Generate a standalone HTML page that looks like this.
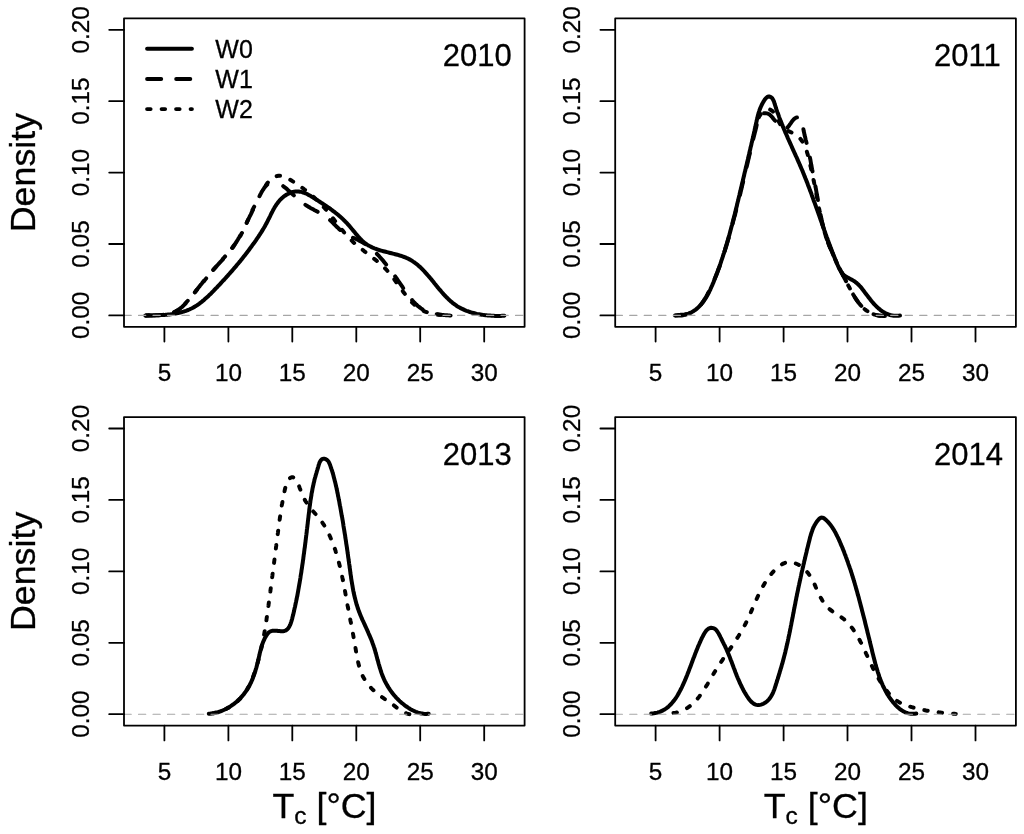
<!DOCTYPE html>
<html lang="en"><head><meta charset="utf-8"><title>Density of Tc</title>
<style>
html,body{margin:0;padding:0;background:#fff;}
body{width:1024px;height:834px;overflow:hidden;}
svg{display:block}
text{font-family:'Liberation Sans', Arial, Helvetica, sans-serif;fill:#000;stroke:#000;stroke-width:0.3px;}
.ax{font-size:24.3px;}
.lg{font-size:25px;}
.lab{font-size:35.8px;}
.yr{font-size:31px;}
.fr{fill:none;stroke:#000;stroke-width:1.8;stroke-linejoin:round;}
.tk{stroke:#000;stroke-width:1.8;fill:none;stroke-linecap:round;}
.zl{stroke:#a6a6a6;stroke-width:1.1;stroke-dasharray:7.25 7.25;stroke-linecap:round;fill:none;}
.c{fill:none;stroke:#000;stroke-width:4.0;stroke-linecap:round;stroke-linejoin:round;}
.d{stroke-width:3.95;stroke-dasharray:14.1 15;}
.o{stroke-width:3.95;stroke-dasharray:3.5 11;}
</style></head><body>
<svg width="1024" height="834" viewBox="0 0 1024 834">
<rect width="1024" height="834" fill="#fff"/>
<g id="panel1">
<path class="c" d="M145.5 315.6 L146.6 315.6 L147.8 315.5 L148.9 315.5 L150.1 315.5 L151.3 315.5 L152.5 315.4 L153.6 315.4 L154.8 315.4 L156.0 315.3 L157.3 315.3 L158.5 315.2 L159.7 315.2 L160.9 315.1 L162.1 315.0 L163.3 315.0 L164.6 314.9 L165.8 314.8 L167.0 314.7 L168.2 314.5 L169.4 314.4 L170.7 314.3 L171.9 314.1 L173.1 313.9 L174.3 313.7 L175.5 313.5 L176.7 313.3 L177.9 313.1 L179.1 312.8 L180.2 312.5 L181.4 312.2 L182.6 311.9 L183.7 311.6 L184.8 311.2 L186.0 310.8 L187.1 310.4 L188.2 310.0 L189.3 309.5 L190.3 309.0 L191.4 308.5 L192.4 308.0 L193.5 307.4 L194.5 306.9 L195.5 306.2 L196.5 305.6 L197.5 305.0 L198.4 304.3 L199.4 303.6 L200.3 302.9 L201.3 302.2 L202.2 301.4 L203.1 300.7 L204.0 299.9 L204.9 299.1 L205.8 298.3 L206.7 297.5 L207.6 296.7 L208.5 295.9 L209.3 295.0 L210.2 294.2 L211.1 293.4 L211.9 292.5 L212.8 291.6 L213.6 290.8 L214.4 289.9 L215.3 289.0 L216.1 288.2 L217.0 287.3 L217.8 286.4 L218.6 285.5 L219.5 284.7 L220.3 283.8 L221.1 282.9 L221.9 282.0 L222.7 281.1 L223.6 280.3 L224.4 279.4 L225.2 278.5 L226.0 277.6 L226.8 276.7 L227.6 275.8 L228.4 274.9 L229.2 274.0 L230.0 273.1 L230.8 272.2 L231.6 271.3 L232.4 270.4 L233.1 269.5 L233.9 268.6 L234.7 267.7 L235.5 266.8 L236.3 265.9 L237.0 264.9 L237.8 264.0 L238.6 263.1 L239.3 262.2 L240.1 261.3 L240.8 260.3 L241.6 259.4 L242.3 258.5 L243.1 257.5 L243.8 256.6 L244.5 255.7 L245.3 254.7 L246.0 253.8 L246.7 252.8 L247.5 251.9 L248.2 250.9 L248.9 250.0 L249.6 249.0 L250.3 248.1 L251.0 247.1 L251.7 246.2 L252.4 245.2 L253.1 244.2 L253.8 243.3 L254.5 242.3 L255.2 241.3 L255.9 240.3 L256.5 239.4 L257.2 238.4 L257.9 237.4 L258.6 236.4 L259.2 235.4 L259.9 234.4 L260.5 233.4 L261.2 232.4 L261.8 231.4 L262.4 230.4 L263.0 229.4 L263.7 228.3 L264.3 227.3 L264.9 226.3 L265.4 225.2 L266.0 224.1 L266.6 223.1 L267.2 222.0 L267.7 220.9 L268.2 219.8 L268.8 218.8 L269.3 217.7 L269.9 216.6 L270.4 215.5 L270.9 214.4 L271.5 213.3 L272.0 212.2 L272.6 211.1 L273.1 210.1 L273.7 209.0 L274.3 208.0 L274.9 206.9 L275.6 205.9 L276.2 204.9 L276.9 203.9 L277.6 203.0 L278.3 202.0 L279.1 201.1 L279.8 200.2 L280.7 199.3 L281.5 198.5 L282.4 197.7 L283.3 196.9 L284.3 196.2 L285.3 195.5 L286.4 194.8 L287.4 194.2 L288.5 193.7 L289.6 193.2 L290.7 192.7 L291.8 192.3 L293.0 192.0 L294.1 191.7 L295.3 191.6 L296.4 191.5 L297.6 191.4 L298.7 191.5 L299.8 191.7 L300.9 191.9 L302.1 192.1 L303.2 192.5 L304.3 192.9 L305.4 193.3 L306.5 193.8 L307.5 194.3 L308.6 194.9 L309.7 195.5 L310.8 196.1 L311.8 196.7 L312.9 197.4 L313.9 198.1 L315.0 198.7 L316.0 199.4 L317.1 200.0 L318.1 200.7 L319.1 201.3 L320.1 202.0 L321.2 202.7 L322.2 203.3 L323.2 204.0 L324.2 204.6 L325.2 205.3 L326.2 206.0 L327.1 206.6 L328.1 207.3 L329.1 208.0 L330.1 208.7 L331.0 209.4 L332.0 210.1 L332.9 210.8 L333.9 211.5 L334.8 212.2 L335.7 213.0 L336.6 213.7 L337.6 214.5 L338.5 215.2 L339.4 216.0 L340.3 216.8 L341.1 217.5 L342.0 218.3 L342.9 219.2 L343.7 220.0 L344.6 220.8 L345.4 221.7 L346.3 222.5 L347.1 223.4 L347.9 224.3 L348.7 225.2 L349.5 226.1 L350.3 227.1 L351.1 228.0 L351.9 229.0 L352.7 229.9 L353.5 230.9 L354.3 231.8 L355.1 232.8 L355.8 233.8 L356.6 234.7 L357.4 235.6 L358.2 236.6 L359.1 237.5 L359.9 238.4 L360.7 239.2 L361.6 240.1 L362.4 240.9 L363.3 241.7 L364.2 242.5 L365.1 243.2 L366.1 243.9 L367.1 244.6 L368.0 245.2 L369.0 245.8 L370.1 246.3 L371.1 246.9 L372.2 247.4 L373.2 247.8 L374.3 248.3 L375.4 248.7 L376.5 249.1 L377.6 249.5 L378.8 249.9 L379.9 250.3 L381.1 250.6 L382.2 250.9 L383.4 251.2 L384.6 251.5 L385.7 251.8 L386.9 252.1 L388.1 252.4 L389.3 252.7 L390.4 253.0 L391.6 253.3 L392.8 253.6 L394.0 253.9 L395.1 254.2 L396.3 254.5 L397.5 254.8 L398.6 255.1 L399.8 255.5 L400.9 255.8 L402.0 256.2 L403.1 256.6 L404.2 257.0 L405.3 257.4 L406.4 257.9 L407.5 258.3 L408.5 258.9 L409.5 259.4 L410.5 259.9 L411.5 260.5 L412.5 261.1 L413.5 261.8 L414.4 262.4 L415.3 263.1 L416.3 263.8 L417.2 264.5 L418.1 265.3 L418.9 266.1 L419.8 266.8 L420.7 267.6 L421.5 268.5 L422.4 269.3 L423.2 270.1 L424.0 271.0 L424.8 271.9 L425.6 272.8 L426.4 273.7 L427.2 274.6 L428.0 275.5 L428.8 276.4 L429.6 277.3 L430.4 278.3 L431.2 279.2 L431.9 280.2 L432.7 281.1 L433.5 282.1 L434.2 283.0 L435.0 284.0 L435.8 284.9 L436.6 285.9 L437.3 286.9 L438.1 287.8 L438.9 288.8 L439.7 289.7 L440.5 290.6 L441.3 291.6 L442.1 292.5 L442.9 293.4 L443.7 294.3 L444.5 295.2 L445.3 296.1 L446.2 296.9 L447.0 297.8 L447.9 298.6 L448.7 299.5 L449.6 300.3 L450.5 301.1 L451.4 301.8 L452.3 302.6 L453.2 303.3 L454.1 304.0 L455.1 304.7 L456.1 305.4 L457.0 306.1 L458.0 306.7 L459.1 307.3 L460.1 307.9 L461.1 308.4 L462.2 308.9 L463.3 309.4 L464.3 309.9 L465.4 310.4 L466.5 310.8 L467.7 311.2 L468.8 311.6 L469.9 312.0 L471.1 312.4 L472.2 312.7 L473.4 313.0 L474.6 313.3 L475.7 313.6 L476.9 313.9 L478.1 314.1 L479.3 314.3 L480.5 314.5 L481.7 314.7 L482.9 314.9 L484.1 315.1 L485.3 315.2 L486.5 315.3 L487.7 315.4 L489.0 315.5 L490.2 315.6 L491.4 315.7 L492.6 315.8 L493.8 315.8 L495.0 315.9 L496.2 315.9 L497.4 315.9 L498.6 315.9 L499.7 315.9 L500.9 315.9 L502.1 315.8 L503.2 315.8 L504.4 315.7"/>
<path class="c d" stroke-dashoffset="0" d="M145.5 315.6 L146.6 315.5 L147.8 315.5 L149.0 315.5 L150.1 315.4 L151.3 315.4 L152.5 315.4 L153.8 315.3 L155.0 315.3 L156.2 315.3 L157.4 315.2 L158.6 315.2 L159.9 315.1 L161.1 315.0 L162.3 314.9 L163.5 314.8 L164.7 314.6 L165.9 314.4 L167.1 314.2 L168.3 314.0 L169.4 313.7 L170.5 313.4 L171.7 313.0 L172.8 312.7 L173.8 312.2 L174.9 311.7 L175.9 311.2 L176.9 310.6 L177.9 310.0 L178.9 309.3 L179.9 308.7 L180.8 307.9 L181.7 307.2 L182.6 306.4 L183.5 305.6 L184.4 304.7 L185.2 303.9 L186.1 303.0 L186.9 302.1 L187.7 301.2 L188.5 300.3 L189.3 299.3 L190.1 298.4 L190.9 297.4 L191.7 296.4 L192.4 295.5 L193.2 294.5 L193.9 293.5 L194.7 292.5 L195.4 291.6 L196.2 290.6 L196.9 289.6 L197.7 288.7 L198.4 287.7 L199.2 286.8 L199.9 285.8 L200.6 284.9 L201.4 284.0 L202.1 283.1 L202.8 282.1 L203.6 281.2 L204.3 280.3 L205.1 279.4 L205.8 278.5 L206.5 277.6 L207.3 276.7 L208.1 275.8 L208.8 274.9 L209.6 274.0 L210.3 273.1 L211.1 272.2 L211.9 271.3 L212.7 270.4 L213.5 269.5 L214.3 268.7 L215.1 267.8 L215.9 266.9 L216.7 266.0 L217.5 265.2 L218.3 264.3 L219.1 263.4 L219.9 262.5 L220.7 261.7 L221.5 260.8 L222.4 259.9 L223.2 259.0 L224.0 258.1 L224.8 257.2 L225.6 256.3 L226.4 255.4 L227.1 254.5 L227.9 253.6 L228.7 252.7 L229.4 251.7 L230.2 250.8 L230.9 249.9 L231.7 248.9 L232.4 248.0 L233.1 247.0 L233.8 246.0 L234.4 245.0 L235.1 244.0 L235.7 243.0 L236.4 242.0 L237.0 241.0 L237.6 240.0 L238.2 239.0 L238.8 237.9 L239.4 236.9 L240.0 235.8 L240.6 234.8 L241.1 233.7 L241.7 232.7 L242.3 231.6 L242.8 230.6 L243.3 229.5 L243.9 228.4 L244.4 227.4 L244.9 226.3 L245.5 225.2 L246.0 224.2 L246.5 223.1 L247.0 222.0 L247.6 221.0 L248.1 219.9 L248.6 218.9 L249.1 217.8 L249.6 216.7 L250.1 215.7 L250.7 214.6 L251.2 213.5 L251.7 212.5 L252.2 211.4 L252.7 210.4 L253.2 209.3 L253.7 208.2 L254.3 207.1 L254.8 206.1 L255.3 205.0 L255.8 203.9 L256.3 202.8 L256.9 201.7 L257.4 200.6 L257.9 199.5 L258.4 198.4 L259.0 197.3 L259.5 196.2 L260.0 195.1 L260.6 194.0 L261.2 192.9 L261.7 191.9 L262.4 190.8 L263.0 189.8 L263.7 188.8 L264.3 187.8 L265.1 186.9 L265.8 186.0 L266.6 185.2 L267.5 184.4 L268.4 183.6 L269.3 182.9 L270.3 182.3 L271.3 181.8 L272.4 181.5 L273.6 181.3 L274.8 181.3 L276.0 181.5"/>
<path class="c d" stroke-dashoffset="15.24" d="M270.5 181.8 L271.7 181.6 L272.9 181.6 L274.0 181.7 L275.1 181.9 L276.2 182.2 L277.3 182.6 L278.3 183.0 L279.3 183.6 L280.3 184.2 L281.3 184.8 L282.3 185.4 L283.2 186.1 L284.1 186.9 L285.1 187.6 L286.0 188.3 L286.9 189.1 L287.8 189.9 L288.7 190.7 L289.6 191.5 L290.5 192.3 L291.4 193.1 L292.3 193.9 L293.2 194.8 L294.1 195.6 L295.0 196.4 L295.9 197.2 L296.8 198.0 L297.7 198.9 L298.6 199.6 L299.6 200.4 L300.5 201.2 L301.4 202.0 L302.4 202.7 L303.4 203.4 L304.3 204.1 L305.3 204.8 L306.3 205.4 L307.3 206.1 L308.4 206.7 L309.4 207.3 L310.4 207.9 L311.5 208.5 L312.5 209.0 L313.6 209.6 L314.6 210.2 L315.7 210.7 L316.7 211.3 L317.8 211.9 L318.8 212.5 L319.9 213.1 L320.9 213.6 L321.9 214.3 L322.9 214.9 L323.9 215.5 L324.9 216.2 L325.9 216.8 L326.8 217.5 L327.8 218.2 L328.7 219.0 L329.6 219.8 L330.5 220.5 L331.4 221.4 L332.2 222.2 L333.1 223.0 L333.9 223.9 L334.8 224.7 L335.6 225.6 L336.5 226.5 L337.3 227.3 L338.2 228.1 L339.1 229.0 L339.9 229.8 L340.8 230.5 L341.8 231.3 L342.7 232.0 L343.7 232.7 L344.7 233.4 L345.7 234.0 L346.7 234.6 L347.7 235.2 L348.8 235.7 L349.9 236.3 L351.0 236.8 L352.1 237.3 L353.2 237.8 L354.3 238.3 L355.4 238.8 L356.5 239.3 L357.6 239.8 L358.6 240.3 L359.7 240.9 L360.8 241.4 L361.8 242.0 L362.9 242.6 L363.9 243.2 L364.9 243.8 L365.9 244.5 L366.9 245.1 L367.9 245.8 L368.8 246.5 L369.7 247.3 L370.7 248.0 L371.6 248.8 L372.5 249.6 L373.4 250.4 L374.2 251.2 L375.1 252.0 L375.9 252.8 L376.8 253.7 L377.6 254.6 L378.4 255.4 L379.2 256.3 L380.0 257.2 L380.8 258.1 L381.6 259.0 L382.4 259.9 L383.2 260.8 L383.9 261.7 L384.7 262.7 L385.4 263.6 L386.2 264.5 L386.9 265.4 L387.6 266.4 L388.4 267.3 L389.1 268.2 L389.8 269.2 L390.5 270.1 L391.2 271.1 L391.9 272.0 L392.6 273.0 L393.3 273.9 L394.0 274.9 L394.7 275.8 L395.4 276.8 L396.1 277.7 L396.8 278.7 L397.5 279.7 L398.1 280.7 L398.8 281.6 L399.5 282.6 L400.2 283.6 L400.9 284.6 L401.6 285.6 L402.3 286.6 L402.9 287.6 L403.6 288.6 L404.3 289.6 L405.0 290.6 L405.7 291.6 L406.4 292.6 L407.1 293.6 L407.9 294.6 L408.6 295.5 L409.3 296.5 L410.1 297.5 L410.8 298.4 L411.6 299.4 L412.3 300.3 L413.1 301.2 L413.9 302.1 L414.7 302.9 L415.6 303.8 L416.4 304.6 L417.3 305.4 L418.2 306.2 L419.1 306.9 L420.0 307.6 L420.9 308.3 L421.9 309.0 L422.9 309.6 L423.9 310.2 L424.9 310.7 L425.9 311.2 L427.0 311.7 L428.1 312.1 L429.2 312.5 L430.4 312.8 L431.5 313.2 L432.7 313.4 L433.9 313.7 L435.1 313.9 L436.3 314.2 L437.5 314.3 L438.7 314.5 L439.9 314.7 L441.2 314.8 L442.4 314.9 L443.6 315.0 L444.8 315.1 L446.0 315.2 L447.2 315.3 L448.3 315.4 L449.5 315.5 L450.6 315.6"/>
<path class="c o" stroke-dashoffset="0" d="M145.5 315.6 L146.6 315.5 L147.7 315.4 L148.9 315.3 L150.1 315.3 L151.2 315.2 L152.4 315.2 L153.7 315.2 L154.9 315.1 L156.1 315.1 L157.3 315.1 L158.6 315.1 L159.8 315.0 L161.0 315.0 L162.3 314.9 L163.5 314.8 L164.7 314.7 L165.9 314.5 L167.1 314.3 L168.3 314.1 L169.5 313.9 L170.6 313.6 L171.7 313.2 L172.8 312.8 L173.9 312.4 L175.0 311.9 L176.0 311.3 L177.0 310.7 L178.0 310.1 L178.9 309.4 L179.8 308.7 L180.8 307.9 L181.7 307.1 L182.5 306.3 L183.4 305.5 L184.3 304.6 L185.1 303.7 L185.9 302.8 L186.7 301.9 L187.5 301.0 L188.4 300.0 L189.1 299.1 L189.9 298.2 L190.7 297.3 L191.5 296.3 L192.3 295.4 L193.1 294.5 L193.8 293.5 L194.6 292.6 L195.4 291.7 L196.1 290.8 L196.9 289.8 L197.6 288.9 L198.4 288.0 L199.2 287.0 L199.9 286.1 L200.7 285.2 L201.4 284.3 L202.2 283.4 L202.9 282.4 L203.6 281.5 L204.4 280.6 L205.1 279.7 L205.9 278.8 L206.6 277.8 L207.4 276.9 L208.2 276.0 L208.9 275.1 L209.7 274.2 L210.4 273.3 L211.2 272.4 L212.0 271.5 L212.7 270.6 L213.5 269.7 L214.3 268.8 L215.1 267.9 L215.8 267.0 L216.6 266.1 L217.4 265.2 L218.2 264.3 L219.0 263.4 L219.8 262.5 L220.6 261.6 L221.4 260.7 L222.1 259.8 L222.9 258.9 L223.7 258.0 L224.5 257.1 L225.3 256.2 L226.1 255.3 L226.8 254.4 L227.6 253.5 L228.4 252.6 L229.1 251.7 L229.9 250.7 L230.6 249.8 L231.4 248.9 L232.1 247.9 L232.8 247.0 L233.5 246.0 L234.2 245.1 L234.9 244.1 L235.6 243.2 L236.3 242.2 L237.0 241.2 L237.6 240.2 L238.3 239.2 L238.9 238.2 L239.6 237.2 L240.2 236.2 L240.8 235.2 L241.3 234.1 L241.9 233.1 L242.5 232.0 L243.0 231.0 L243.5 229.9 L244.1 228.8 L244.6 227.7 L245.1 226.7 L245.5 225.6 L246.0 224.5 L246.5 223.4 L247.0 222.2 L247.4 221.1 L247.9 220.0 L248.4 218.9 L248.9 217.8 L249.3 216.7 L249.8 215.6 L250.3 214.5 L250.8 213.4 L251.3 212.4 L251.8 211.3 L252.3 210.2 L252.9 209.1 L253.4 208.1 L254.0 207.0 L254.6 206.0 L255.2 205.0 L255.8 204.0 L256.4 202.9 L256.9 201.9 L257.4 200.8 L257.8 199.7 L258.1 198.5"/>
<path class="c o" stroke-dashoffset="10.43" d="M264.0 189.0 L264.5 187.9 L265.0 186.8 L265.6 185.7 L266.3 184.7 L267.0 183.6 L267.8 182.6 L268.6 181.7 L269.4 180.8 L270.3 179.9 L271.2 179.1 L272.2 178.4 L273.2 177.7 L274.2 177.2 L275.2 176.7 L276.2 176.3 L277.3 176.0 L278.4 175.8 L279.4 175.8 L280.5 175.8 L281.6 176.0 L282.7 176.2 L283.8 176.6 L284.9 177.0 L286.0 177.4 L287.1 178.0 L288.1 178.5 L289.2 179.1 L290.3 179.8 L291.4 180.4 L292.4 181.1 L293.5 181.8 L294.5 182.5 L295.6 183.1 L296.6 183.8 L297.6 184.5 L298.6 185.2 L299.6 185.9 L300.6 186.6 L301.6 187.3 L302.6 188.0 L303.6 188.8 L304.5 189.5 L305.5 190.2 L306.4 190.9 L307.4 191.7 L308.3 192.4 L309.2 193.2 L310.1 194.0 L311.0 194.7 L311.9 195.5 L312.8 196.3 L313.7 197.1 L314.6 197.9 L315.4 198.7 L316.3 199.5 L317.2 200.3 L318.0 201.1 L318.8 201.9 L319.7 202.8 L320.5 203.6 L321.3 204.5 L322.1 205.3 L322.9 206.2 L323.7 207.1 L324.5 208.0 L325.3 208.9 L326.1 209.8 L326.8 210.7 L327.6 211.6 L328.3 212.5 L329.1 213.4 L329.8 214.4 L330.6 215.3 L331.3 216.2 L332.1 217.2 L332.8 218.1 L333.6 219.1 L334.3 220.0 L335.0 221.0 L335.8 221.9 L336.5 222.9 L337.2 223.8 L338.0 224.8 L338.7 225.7 L339.5 226.7 L340.2 227.6 L341.0 228.6 L341.7 229.5 L342.5 230.4 L343.3 231.3 L344.0 232.3 L344.8 233.2 L345.6 234.1 L346.4 235.0 L347.2 235.9 L348.0 236.8 L348.8 237.6 L349.6 238.5 L350.5 239.4 L351.3 240.2 L352.2 241.0 L353.0 241.9 L353.9 242.7 L354.8 243.5 L355.7 244.3 L356.6 245.1 L357.5 245.8 L358.5 246.6 L359.4 247.4 L360.3 248.1 L361.3 248.9 L362.2 249.6 L363.2 250.3 L364.1 251.1 L365.1 251.8 L366.0 252.5 L367.0 253.3 L367.9 254.0 L368.9 254.7 L369.9 255.4 L370.8 256.2 L371.8 256.9 L372.7 257.6 L373.6 258.4 L374.6 259.1 L375.5 259.9 L376.5 260.6 L377.4 261.4 L378.3 262.1 L379.2 262.9 L380.1 263.7 L381.0 264.5 L381.9 265.3 L382.7 266.1 L383.6 266.9 L384.4 267.7 L385.3 268.6 L386.1 269.4 L386.9 270.3 L387.7 271.2 L388.5 272.1 L389.2 273.0 L390.0 273.9 L390.8 274.8 L391.5 275.8 L392.2 276.7 L393.0 277.7 L393.7 278.6 L394.4 279.6 L395.1 280.6 L395.8 281.5 L396.5 282.5 L397.2 283.5 L397.9 284.5 L398.6 285.5 L399.3 286.5 L400.0 287.4 L400.7 288.4 L401.4 289.4 L402.2 290.4 L402.9 291.4 L403.6 292.4 L404.4 293.3 L405.1 294.3 L405.8 295.3 L406.6 296.2 L407.4 297.2 L408.2 298.1 L408.9 299.0 L409.7 299.9 L410.6 300.8 L411.4 301.7 L412.2 302.6 L413.1 303.4 L413.9 304.2 L414.8 305.0 L415.7 305.8 L416.6 306.5 L417.6 307.2 L418.5 307.9 L419.5 308.6 L420.5 309.2 L421.5 309.8 L422.5 310.4 L423.6 310.9 L424.6 311.4 L425.7 311.8 L426.8 312.2 L428.0 312.6 L429.1 313.0 L430.3 313.3 L431.5 313.5 L432.7 313.8 L433.9 314.0 L435.1 314.2 L436.3 314.4 L437.5 314.5 L438.8 314.7 L440.0 314.8 L441.2 314.9 L442.4 315.0 L443.6 315.1 L444.8 315.2 L446.0 315.3 L447.2 315.3 L448.3 315.4 L449.5 315.5 L450.6 315.6"/>
<line class="zl" x1="124.0" y1="315.4" x2="524.6" y2="315.4"/>
<rect class="fr" x="124.0" y="18.4" width="400.6" height="308.4"/>
<path class="tk" d="M164.4 326.8v14.8M228.4 326.8v14.8M292.3 326.8v14.8M356.3 326.8v14.8M420.2 326.8v14.8M484.2 326.8v14.8M124.0 315.4h-14.8M124.0 244.0h-14.8M124.0 172.6h-14.8M124.0 101.2h-14.8M124.0 29.8h-14.8"/>
<text class="ax" x="164.4" y="380.7" text-anchor="middle">5</text>
<text class="ax" x="228.4" y="380.7" text-anchor="middle">10</text>
<text class="ax" x="292.3" y="380.7" text-anchor="middle">15</text>
<text class="ax" x="356.3" y="380.7" text-anchor="middle">20</text>
<text class="ax" x="420.2" y="380.7" text-anchor="middle">25</text>
<text class="ax" x="484.2" y="380.7" text-anchor="middle">30</text>
<text class="ax" transform="translate(88.7 315.4) rotate(-90)" text-anchor="middle">0.00</text>
<text class="ax" transform="translate(88.7 244.0) rotate(-90)" text-anchor="middle">0.05</text>
<text class="ax" transform="translate(88.7 172.6) rotate(-90)" text-anchor="middle">0.10</text>
<text class="ax" transform="translate(88.7 101.2) rotate(-90)" text-anchor="middle">0.15</text>
<text class="ax" transform="translate(88.7 29.8) rotate(-90)" text-anchor="middle">0.20</text>
<text class="yr" x="442.7" y="66.1">2010</text>
<text class="lab" transform="translate(35.4 172.6) rotate(-90)" text-anchor="middle">Density</text>
<line class="c" x1="147.1" y1="48.7" x2="191.9" y2="48.7"/>
<text class="lg" x="215.3" y="57.9">W0</text>
<line class="c d" x1="147.1" y1="78.9" x2="191.9" y2="78.9"/>
<text class="lg" x="215.3" y="88.1">W1</text>
<line class="c o" x1="147.1" y1="109.1" x2="191.9" y2="109.1"/>
<text class="lg" x="215.3" y="118.3">W2</text>
</g>
<g id="panel2">
<path class="c" d="M675.0 315.6 L676.4 315.6 L677.8 315.6 L679.1 315.6 L680.4 315.5 L681.6 315.4 L682.9 315.2 L684.1 314.9 L685.2 314.7 L686.4 314.3 L687.5 314.0 L688.6 313.6 L689.6 313.1 L690.7 312.7 L691.7 312.2 L692.6 311.6 L693.6 311.0 L694.5 310.4 L695.4 309.8 L696.3 309.1 L697.2 308.4 L698.0 307.6 L698.8 306.8 L699.6 306.0 L700.4 305.2 L701.1 304.4 L701.8 303.5 L702.6 302.6 L703.3 301.7 L703.9 300.7 L704.6 299.8 L705.2 298.8 L705.9 297.8 L706.5 296.8 L707.1 295.7 L707.7 294.7 L708.2 293.6 L708.8 292.6 L709.3 291.5 L709.9 290.4 L710.4 289.3 L710.9 288.1 L711.4 287.0 L711.9 285.9 L712.4 284.8 L712.9 283.6 L713.4 282.5 L713.8 281.3 L714.3 280.2 L714.7 279.0 L715.2 277.9 L715.6 276.7 L716.1 275.6 L716.5 274.4 L717.0 273.3 L717.4 272.1 L717.8 271.0 L718.2 269.8 L718.6 268.7 L719.1 267.5 L719.5 266.4 L719.9 265.2 L720.3 264.1 L720.7 262.9 L721.1 261.8 L721.4 260.6 L721.8 259.5 L722.2 258.3 L722.6 257.2 L723.0 256.0 L723.3 254.9 L723.7 253.8 L724.1 252.6 L724.4 251.5 L724.8 250.3 L725.1 249.2 L725.5 248.0 L725.8 246.9 L726.2 245.7 L726.5 244.6 L726.9 243.5 L727.2 242.3 L727.5 241.2 L727.9 240.0 L728.2 238.9 L728.5 237.7 L728.8 236.6 L729.2 235.4 L729.5 234.3 L729.8 233.2 L730.1 232.0 L730.4 230.9 L730.7 229.7 L731.0 228.6 L731.3 227.4 L731.6 226.3 L732.0 225.1 L732.3 224.0 L732.6 222.8 L732.8 221.7 L733.1 220.5 L733.4 219.4 L733.7 218.3 L734.0 217.1 L734.3 216.0 L734.6 214.8 L734.9 213.7 L735.2 212.5 L735.5 211.4 L735.7 210.2 L736.0 209.0 L736.3 207.9 L736.6 206.7 L736.9 205.6 L737.1 204.4 L737.4 203.3 L737.7 202.1 L738.0 201.0 L738.3 199.8 L738.5 198.7 L738.8 197.5 L739.1 196.3 L739.4 195.2 L739.6 194.0 L739.9 192.9 L740.2 191.7 L740.5 190.5 L740.7 189.4 L741.0 188.2 L741.3 187.0 L741.6 185.9 L741.8 184.7 L742.1 183.5 L742.4 182.4 L742.7 181.2 L743.0 180.0 L743.2 178.9 L743.5 177.7 L743.8 176.5 L744.1 175.4 L744.3 174.2 L744.6 173.0 L744.9 171.8 L745.2 170.7 L745.5 169.5 L745.7 168.3 L746.0 167.1 L746.3 166.0 L746.6 164.8 L746.9 163.6 L747.1 162.4 L747.4 161.2 L747.7 160.1 L748.0 158.9 L748.2 157.7 L748.5 156.5 L748.8 155.4 L749.1 154.2 L749.3 153.0 L749.6 151.8 L749.9 150.6 L750.2 149.5 L750.4 148.3 L750.7 147.1 L751.0 145.9 L751.3 144.8 L751.5 143.6 L751.8 142.4 L752.1 141.2 L752.4 140.0 L752.6 138.9 L752.9 137.7 L753.2 136.5 L753.4 135.3 L753.7 134.2 L754.0 133.0 L754.2 131.8 L754.5 130.7 L754.7 129.5 L755.0 128.3 L755.3 127.1 L755.5 126.0 L755.8 124.8 L756.0 123.6 L756.3 122.5 L756.6 121.3 L756.8 120.1 L757.1 119.0 L757.4 117.8 L757.6 116.7 L757.9 115.5 L758.2 114.4 L758.6 113.2 L758.9 112.1 L759.3 110.9 L759.6 109.8 L760.1 108.7 L760.5 107.6 L761.0 106.5 L761.5 105.4 L762.0 104.3 L762.6 103.2 L763.2 102.1 L763.8 101.1 L764.5 100.0 L765.2 99.0 L766.0 98.1 L766.8 97.3 L767.7 96.7 L768.7 96.5 L769.7 96.6 L770.7 97.0 L771.6 97.6 L772.3 98.4 L772.9 99.3 L773.4 100.3 L773.9 101.4 L774.3 102.6 L774.6 103.7 L775.0 104.9 L775.4 106.1 L775.8 107.3 L776.1 108.5 L776.5 109.6 L776.9 110.8 L777.3 112.0 L777.7 113.1 L778.2 114.3 L778.6 115.4 L779.0 116.6 L779.4 117.7 L779.9 118.9 L780.3 120.0 L780.7 121.1 L781.2 122.3 L781.6 123.4 L782.1 124.5 L782.5 125.7 L783.0 126.8 L783.5 127.9 L783.9 129.0 L784.4 130.1 L784.9 131.2 L785.3 132.3 L785.8 133.4 L786.3 134.5 L786.8 135.6 L787.3 136.7 L787.7 137.8 L788.2 138.9 L788.7 140.0 L789.2 141.1 L789.7 142.2 L790.2 143.3 L790.7 144.4 L791.2 145.5 L791.7 146.6 L792.1 147.7 L792.6 148.7 L793.1 149.8 L793.6 150.9 L794.1 152.0 L794.6 153.1 L795.1 154.2 L795.6 155.3 L796.1 156.4 L796.6 157.4 L797.1 158.5 L797.5 159.6 L798.0 160.7 L798.5 161.8 L799.0 162.9 L799.5 164.0 L799.9 165.1 L800.4 166.2 L800.9 167.3 L801.3 168.4 L801.8 169.4 L802.3 170.5 L802.7 171.6 L803.2 172.8 L803.6 173.9 L804.1 175.0 L804.5 176.1 L805.0 177.2 L805.4 178.3 L805.9 179.4 L806.3 180.5 L806.7 181.6 L807.2 182.7 L807.6 183.8 L808.0 185.0 L808.4 186.1 L808.9 187.2 L809.3 188.3 L809.7 189.4 L810.1 190.6 L810.6 191.7 L811.0 192.8 L811.4 193.9 L811.8 195.1 L812.2 196.2 L812.6 197.3 L813.0 198.4 L813.4 199.6 L813.8 200.7 L814.2 201.8 L814.7 203.0 L815.1 204.1 L815.5 205.2 L815.9 206.3 L816.3 207.5 L816.7 208.6 L817.1 209.7 L817.5 210.9 L817.9 212.0 L818.3 213.1 L818.7 214.3 L819.1 215.4 L819.5 216.5 L819.9 217.7 L820.3 218.8 L820.7 220.0 L821.1 221.1 L821.5 222.2 L821.9 223.4 L822.3 224.5 L822.7 225.6 L823.1 226.8 L823.5 227.9 L823.9 229.0 L824.3 230.2 L824.7 231.3 L825.1 232.4 L825.5 233.6 L825.9 234.7 L826.3 235.8 L826.7 237.0 L827.1 238.1 L827.6 239.2 L828.0 240.4 L828.4 241.5 L828.8 242.6 L829.2 243.7 L829.6 244.9 L830.1 246.0 L830.5 247.1 L830.9 248.3 L831.3 249.4 L831.8 250.5 L832.2 251.6 L832.6 252.8 L833.1 253.9 L833.5 255.0 L833.9 256.1 L834.4 257.2 L834.8 258.4 L835.3 259.5 L835.7 260.6 L836.2 261.7 L836.6 262.8 L837.1 263.9 L837.6 265.0 L838.1 266.1 L838.6 267.2 L839.1 268.3 L839.6 269.3 L840.2 270.3 L840.8 271.3 L841.5 272.3 L842.2 273.2 L843.0 274.1 L843.8 274.9 L844.7 275.7 L845.6 276.4 L846.7 277.0 L847.7 277.7 L848.9 278.2 L850.0 278.8 L851.1 279.4 L852.3 280.0 L853.3 280.6 L854.3 281.2 L855.3 281.9 L856.2 282.7 L857.1 283.4 L858.0 284.2 L858.8 285.0 L859.6 285.9 L860.4 286.7 L861.2 287.6 L861.9 288.5 L862.6 289.4 L863.3 290.4 L864.1 291.3 L864.8 292.3 L865.5 293.3 L866.2 294.2 L867.0 295.2 L867.7 296.2 L868.4 297.2 L869.2 298.1 L870.0 299.1 L870.7 300.1 L871.5 301.0 L872.3 302.0 L873.1 302.9 L873.9 303.8 L874.7 304.7 L875.6 305.6 L876.4 306.4 L877.3 307.3 L878.2 308.1 L879.1 308.8 L880.0 309.6 L880.9 310.3 L881.8 311.0 L882.8 311.6 L883.8 312.2 L884.8 312.8 L885.8 313.3 L886.9 313.8 L887.9 314.3 L889.0 314.6 L890.1 315.0 L891.3 315.3 L892.5 315.5 L893.6 315.7 L894.9 315.8 L896.1 315.8 L897.4 315.8 L898.7 315.7 L900.0 315.6"/>
<path class="c d" stroke-dashoffset="28.34" d="M675.0 315.6 L676.1 315.4 L677.2 315.2 L678.4 315.0 L679.6 314.9 L680.8 314.8 L682.0 314.7 L683.3 314.6 L684.5 314.5 L685.7 314.3 L687.0 314.1 L688.2 313.9 L689.4 313.7 L690.5 313.3 L691.6 312.9 L692.7 312.5 L693.7 311.9 L694.7 311.2 L695.7 310.5 L696.6 309.7 L697.4 308.8 L698.3 307.9 L699.1 307.0 L699.8 306.1 L700.6 305.1 L701.3 304.2 L702.0 303.2 L702.7 302.2 L703.4 301.2 L704.0 300.2 L704.7 299.2 L705.3 298.2 L705.9 297.2 L706.5 296.1 L707.0 295.1 L707.6 294.0 L708.1 293.0 L708.7 291.9 L709.2 290.8 L709.7 289.8 L710.3 288.7 L710.8 287.6 L711.3 286.5 L711.8 285.5 L712.3 284.4 L712.8 283.3 L713.3 282.2 L713.7 281.1 L714.2 280.0 L714.7 278.9 L715.1 277.8 L715.6 276.7 L716.1 275.6 L716.5 274.5 L716.9 273.4 L717.4 272.2 L717.8 271.1 L718.2 270.0 L718.7 268.9 L719.1 267.7 L719.5 266.6 L719.9 265.5 L720.3 264.4 L720.7 263.2 L721.1 262.1 L721.5 261.0 L721.9 259.8 L722.3 258.7 L722.7 257.5 L723.0 256.4 L723.4 255.2 L723.8 254.1 L724.1 253.0 L724.5 251.8 L724.9 250.7 L725.2 249.5 L725.6 248.4 L725.9 247.2 L726.3 246.1 L726.6 244.9 L727.0 243.7 L727.3 242.6 L727.7 241.4 L728.0 240.3 L728.3 239.1 L728.7 238.0 L729.0 236.8 L729.3 235.7 L729.7 234.5 L730.0 233.3 L730.3 232.2 L730.6 231.0 L730.9 229.9 L731.3 228.7 L731.6 227.6 L731.9 226.4 L732.2 225.3 L732.5 224.1 L732.8 222.9 L733.1 221.8 L733.4 220.6 L733.7 219.5 L734.0 218.3 L734.3 217.2 L734.7 216.0 L735.0 214.9 L735.3 213.7 L735.5 212.5 L735.8 211.4 L736.1 210.2 L736.4 209.1 L736.7 207.9 L737.0 206.8 L737.3 205.6 L737.6 204.5 L737.9 203.3 L738.2 202.1 L738.5 201.0 L738.8 199.8 L739.0 198.7 L739.3 197.5 L739.6 196.3 L739.9 195.2 L740.2 194.0 L740.5 192.9 L740.7 191.7 L741.0 190.6 L741.3 189.4 L741.6 188.2 L741.9 187.1 L742.1 185.9 L742.4 184.8 L742.7 183.6 L743.0 182.4 L743.2 181.3 L743.5 180.1 L743.8 178.9 L744.1 177.8 L744.4 176.6 L744.6 175.5 L744.9 174.3 L745.2 173.1 L745.5 172.0 L745.7 170.8 L746.0 169.6 L746.3 168.5 L746.6 167.3 L746.8 166.1 L747.1 165.0 L747.4 163.8 L747.7 162.6 L747.9 161.5 L748.2 160.3 L748.5 159.1 L748.8 158.0 L749.0 156.8 L749.3 155.6 L749.6 154.5 L749.9 153.3 L750.1 152.1 L750.4 150.9 L750.7 149.8 L751.0 148.6 L751.3 147.4 L751.5 146.2 L751.8 145.1 L752.1 143.9 L752.4 142.7 L752.7 141.5 L753.0 140.4 L753.2 139.2 L753.5 138.0 L753.8 136.8 L754.1 135.6 L754.4 134.5 L754.7 133.3 L755.0 132.1 L755.3 130.9 L755.6 129.7 L755.9 128.5 L756.2 127.4 L756.4 126.2 L756.7 125.0 L757.0 123.8 L757.3 122.6 L757.6 121.4 L758.0 120.2 L758.3 119.1 L758.7 118.0 L759.1 116.9 L759.7 116.0 L760.3 115.1 L761.1 114.4 L762.0 113.8 L763.1 113.5 L764.3 113.2 L765.5 113.2 L766.8 113.4 L768.0 113.7 L769.0 114.2 L770.0 114.9 L770.9 115.7 L771.7 116.6 L772.5 117.5 L773.2 118.5 L774.0 119.5 L774.8 120.4 L775.6 121.3 L776.6 122.1 L777.5 122.8 L778.5 123.5 L779.5 124.3 L780.5 125.1 L781.5 125.9 L782.4 126.7 L783.4 127.4 L784.3 127.9 L785.2 128.2 L786.0 128.2 L786.8 127.8 L787.6 127.3 L788.4 126.5 L789.2 125.5 L789.9 124.4 L790.7 123.3 L791.5 122.1 L792.3 121.0 L793.2 119.9 L794.1 119.0 L795.0 118.2 L796.0 117.7 L797.1 117.4 L798.1 117.3 L799.0 117.5 L799.8 117.9 L800.4 118.6 L801.0 119.4 L801.4 120.5 L801.8 121.6 L802.2 122.9 L802.5 124.2 L802.7 125.6 L803.0 127.0 L803.2 128.3 L803.5 129.7 L803.7 131.0 L804.0 132.2 L804.3 133.5 L804.5 134.7 L804.8 135.9 L805.1 137.1 L805.4 138.2 L805.6 139.4 L805.9 140.5 L806.2 141.6 L806.5 142.7 L806.8 143.8 L807.1 144.9 L807.3 146.0 L807.6 147.1 L807.9 148.2 L808.2 149.3 L808.4 150.5 L808.7 151.6 L808.9 152.7 L809.2 153.9 L809.4 155.0 L809.7 156.2 L809.9 157.4 L810.1 158.6 L810.4 159.8 L810.6 161.0 L810.8 162.2 L811.0 163.4 L811.2 164.6 L811.5 165.8 L811.7 167.0 L811.9 168.2 L812.1 169.4 L812.4 170.6 L812.6 171.8 L812.8 173.0 L813.0 174.2 L813.3 175.3 L813.5 176.5 L813.7 177.7 L814.0 178.9 L814.2 180.0 L814.4 181.2 L814.6 182.4 L814.9 183.5 L815.1 184.7 L815.3 185.8 L815.5 187.0 L815.8 188.2 L816.0 189.3 L816.2 190.5 L816.4 191.7 L816.6 192.9 L816.8 194.0 L817.0 195.2 L817.3 196.4 L817.5 197.6 L817.7 198.7 L817.9 199.9 L818.1 201.1 L818.3 202.3 L818.5 203.5 L818.7 204.7 L818.9 205.8 L819.1 207.0 L819.3 208.2 L819.6 209.4 L819.8 210.6 L820.0 211.7 L820.2 212.9 L820.5 214.1 L820.7 215.3 L820.9 216.5 L821.2 217.7 L821.4 218.8 L821.7 220.0 L821.9 221.2 L822.2 222.4 L822.5 223.5 L822.7 224.7 L823.0 225.9 L823.3 227.0 L823.6 228.2 L823.9 229.4 L824.2 230.5 L824.5 231.7 L824.8 232.8 L825.2 234.0 L825.5 235.1 L825.9 236.3 L826.2 237.4 L826.6 238.5 L827.0 239.7 L827.4 240.8 L827.8 241.9 L828.2 243.1 L828.6 244.2 L829.1 245.3 L829.5 246.4 L830.0 247.5"/>
<path class="c d" stroke-dashoffset="15.35" d="M823.7 229.0 L824.1 230.2 L824.4 231.3 L824.8 232.5 L825.2 233.6 L825.5 234.8 L825.9 235.9 L826.3 237.1 L826.7 238.2 L827.1 239.3 L827.5 240.4 L827.9 241.6 L828.3 242.7 L828.7 243.8 L829.1 244.9 L829.6 246.0 L830.0 247.1 L830.4 248.2 L830.9 249.3 L831.3 250.4 L831.8 251.5 L832.3 252.6 L832.7 253.7 L833.2 254.8 L833.7 255.9 L834.2 257.0 L834.6 258.1 L835.1 259.2 L835.6 260.2 L836.1 261.3 L836.6 262.4 L837.1 263.5 L837.6 264.6 L838.2 265.6 L838.7 266.7 L839.2 267.8 L839.7 268.8 L840.3 269.9 L840.8 271.0 L841.3 272.1 L841.9 273.1 L842.4 274.2 L842.9 275.3 L843.5 276.3 L844.0 277.4 L844.6 278.5 L845.2 279.5 L845.7 280.6 L846.3 281.7 L846.8 282.7 L847.4 283.8 L848.0 284.9 L848.5 286.0 L849.1 287.0 L849.7 288.1 L850.2 289.2 L850.8 290.2 L851.4 291.3 L852.0 292.4 L852.6 293.4 L853.2 294.5 L853.8 295.5 L854.4 296.6 L855.1 297.6 L855.7 298.6 L856.4 299.6 L857.0 300.6 L857.7 301.5 L858.4 302.5 L859.1 303.4 L859.9 304.3 L860.6 305.2 L861.4 306.0 L862.2 306.8 L863.0 307.7 L863.9 308.4 L864.7 309.2 L865.6 309.9 L866.5 310.6 L867.5 311.2 L868.4 311.8 L869.4 312.4 L870.5 313.0 L871.5 313.5 L872.6 313.9 L873.7 314.3 L874.8 314.7 L876.0 315.0 L877.2 315.3 L878.4 315.5 L879.7 315.7 L880.9 315.8 L882.3 315.9 L883.6 315.9 L885.0 315.9"/>
<path class="c o" stroke-dashoffset="8.29" d="M757.3 123.0 L757.3 122.0 L757.5 120.9 L757.8 119.7 L758.2 118.6 L758.8 117.4 L759.4 116.2 L760.2 115.1 L761.0 114.0 L761.9 113.0 L762.8 112.1 L763.8 111.3 L764.8 110.5 L765.8 110.0 L766.8 109.6 L767.9 109.3 L768.9 109.3 L769.8 109.5 L770.8 109.9 L771.7 110.4 L772.5 111.2 L773.3 112.0 L774.1 113.0 L774.8 114.0 L775.5 115.1 L776.1 116.3 L776.7 117.4 L777.3 118.5 L777.8 119.7 L778.4 120.8 L778.9 121.9 L779.5 123.0 L780.1 124.1 L780.7 125.1 L781.4 126.1 L782.1 127.0 L782.9 127.8 L783.8 128.5 L784.7 129.2 L785.7 129.8 L786.8 130.4 L787.9 130.9 L789.0 131.4 L790.1 131.9 L791.3 132.4 L792.4 132.9 L793.5 133.4 L794.6 134.0 L795.6 134.6 L796.5 135.2 L797.4 135.9 L798.3 136.7 L799.1 137.5 L799.9 138.3 L800.6 139.1 L801.3 140.0 L802.0 141.0 L802.6 141.9 L803.2 142.9 L803.8 144.0 L804.3 145.0 L804.8 146.1 L805.2 147.2 L805.7 148.3 L806.1 149.4 L806.5 150.6 L806.9 151.8 L807.2 152.9 L807.6 154.1 L807.9 155.3 L808.2 156.5 L808.5 157.7 L808.8 158.9 L809.1 160.2 L809.4 161.4 L809.7 162.6 L810.0 163.8 L810.2 165.0 L810.5 166.2 L810.8 167.3 L811.0 168.5 L811.3 169.7 L811.6 170.9 L811.8 172.0 L812.1 173.2 L812.3 174.4 L812.6 175.5 L812.8 176.7 L813.1 177.9 L813.3 179.0 L813.6 180.2 L813.8 181.3 L814.1 182.5 L814.3 183.6 L814.5 184.8 L814.8 186.0 L815.0 187.1 L815.2 188.3 L815.5 189.4 L815.7 190.6 L815.9 191.8 L816.2 192.9 L816.4 194.1 L816.6 195.3 L816.8 196.4 L817.0 197.6 L817.3 198.8 L817.5 200.0 L817.7 201.1 L817.9 202.3 L818.1 203.5 L818.4 204.7 L818.6 205.9 L818.8 207.1 L819.0 208.2 L819.3 209.4 L819.5 210.6 L819.7 211.8 L820.0 213.0 L820.2 214.2 L820.5 215.3 L820.7 216.5 L821.0 217.7 L821.2 218.9 L821.5 220.1 L821.8 221.2 L822.0 222.4 L822.3 223.6 L822.6 224.8 L822.9 225.9 L823.2 227.1 L823.5 228.3 L823.8 229.4 L824.1 230.6 L824.4 231.7 L824.8 232.9 L825.1 234.0 L825.5 235.2 L825.8 236.3 L826.2 237.5 L826.6 238.6 L827.0 239.7 L827.4 240.8 L827.8 242.0 L828.2 243.1 L828.6 244.2 L829.1 245.3 L829.5 246.4 L830.0 247.5"/>
<path class="c o" stroke-dashoffset="10.78" d="M823.6 229.0 L824.0 230.2 L824.3 231.3 L824.7 232.5 L825.1 233.6 L825.4 234.8 L825.8 235.9 L826.2 237.0 L826.6 238.2 L827.0 239.3 L827.4 240.4 L827.8 241.5 L828.2 242.7 L828.7 243.8 L829.1 244.9 L829.5 246.0 L830.0 247.1 L830.4 248.2 L830.9 249.3 L831.3 250.4 L831.8 251.5 L832.2 252.6 L832.7 253.7 L833.2 254.8 L833.7 255.9 L834.2 257.0 L834.6 258.0 L835.1 259.1 L835.6 260.2 L836.1 261.3 L836.6 262.4 L837.1 263.4 L837.6 264.5 L838.2 265.6 L838.7 266.7 L839.2 267.7 L839.7 268.8 L840.3 269.9 L840.8 271.0 L841.3 272.0 L841.9 273.1 L842.4 274.2 L842.9 275.2 L843.5 276.3 L844.0 277.4 L844.6 278.4 L845.1 279.5 L845.7 280.6 L846.3 281.7 L846.8 282.7 L847.4 283.8 L847.9 284.9 L848.5 285.9 L849.1 287.0 L849.7 288.1 L850.2 289.2 L850.8 290.2 L851.4 291.3 L852.0 292.4 L852.6 293.4 L853.2 294.5 L853.8 295.5 L854.4 296.5 L855.0 297.6 L855.7 298.6 L856.3 299.6 L857.0 300.5 L857.7 301.5 L858.4 302.4 L859.1 303.4 L859.9 304.3 L860.6 305.2 L861.4 306.0 L862.2 306.8 L863.0 307.6 L863.8 308.4 L864.7 309.2 L865.6 309.9 L866.5 310.6 L867.5 311.2 L868.4 311.8 L869.4 312.4 L870.4 312.9 L871.5 313.4 L872.6 313.9 L873.7 314.3 L874.8 314.7 L876.0 315.0 L877.2 315.3 L878.4 315.5 L879.7 315.7 L880.9 315.8 L882.3 315.9 L883.6 315.9 L885.0 315.9"/>
<line class="zl" x1="615.2" y1="315.4" x2="1015.9" y2="315.4"/>
<rect class="fr" x="615.2" y="18.4" width="400.7" height="308.4"/>
<path class="tk" d="M655.6 326.8v14.8M719.6 326.8v14.8M783.6 326.8v14.8M847.5 326.8v14.8M911.5 326.8v14.8M975.5 326.8v14.8M615.2 315.4h-14.8M615.2 244.0h-14.8M615.2 172.6h-14.8M615.2 101.2h-14.8M615.2 29.8h-14.8"/>
<text class="ax" x="655.6" y="380.7" text-anchor="middle">5</text>
<text class="ax" x="719.6" y="380.7" text-anchor="middle">10</text>
<text class="ax" x="783.6" y="380.7" text-anchor="middle">15</text>
<text class="ax" x="847.5" y="380.7" text-anchor="middle">20</text>
<text class="ax" x="911.5" y="380.7" text-anchor="middle">25</text>
<text class="ax" x="975.5" y="380.7" text-anchor="middle">30</text>
<text class="ax" transform="translate(579.9 315.4) rotate(-90)" text-anchor="middle">0.00</text>
<text class="ax" transform="translate(579.9 244.0) rotate(-90)" text-anchor="middle">0.05</text>
<text class="ax" transform="translate(579.9 172.6) rotate(-90)" text-anchor="middle">0.10</text>
<text class="ax" transform="translate(579.9 101.2) rotate(-90)" text-anchor="middle">0.15</text>
<text class="ax" transform="translate(579.9 29.8) rotate(-90)" text-anchor="middle">0.20</text>
<text class="yr" x="934.0" y="66.1">2011</text>
</g>
<g id="panel3">
<path class="c" d="M208.8 713.8 L209.9 713.7 L211.1 713.6 L212.3 713.4 L213.5 713.2 L214.6 713.0 L215.8 712.7 L216.9 712.4 L218.1 712.1 L219.2 711.8 L220.3 711.4 L221.5 711.0 L222.6 710.5 L223.7 710.0 L224.8 709.5 L225.8 709.0 L226.9 708.4 L228.0 707.8 L229.0 707.2 L230.0 706.6 L231.1 705.9 L232.1 705.2 L233.1 704.5 L234.0 703.8 L235.0 703.0 L235.9 702.3 L236.9 701.5 L237.8 700.6 L238.7 699.8 L239.5 699.0 L240.4 698.1 L241.2 697.2 L242.0 696.3 L242.8 695.4 L243.6 694.5 L244.3 693.5 L245.0 692.6 L245.7 691.6 L246.4 690.6 L247.1 689.6 L247.7 688.6 L248.3 687.6 L248.9 686.6 L249.5 685.5 L250.0 684.5 L250.5 683.4 L251.1 682.4 L251.5 681.3 L252.0 680.2 L252.5 679.1 L252.9 678.0 L253.3 676.9 L253.7 675.8 L254.1 674.7 L254.5 673.5 L254.9 672.4 L255.3 671.3 L255.6 670.1 L255.9 669.0 L256.3 667.8 L256.6 666.7 L256.9 665.5 L257.2 664.3 L257.5 663.1 L257.8 662.0 L258.1 660.8 L258.4 659.6 L258.6 658.4 L258.9 657.2 L259.2 656.0 L259.5 654.8 L259.7 653.6 L260.0 652.4 L260.3 651.2 L260.6 650.1 L260.9 648.9 L261.2 647.7 L261.6 646.5 L261.9 645.4 L262.3 644.2 L262.7 643.1 L263.1 642.0 L263.6 640.9 L264.1 639.8 L264.6 638.7 L265.1 637.7 L265.7 636.7 L266.3 635.6 L267.0 634.7 L267.7 633.7 L268.4 632.8 L269.2 632.1 L270.2 631.5 L271.2 631.1 L272.2 630.8 L273.4 630.7 L274.5 630.7 L275.8 630.7 L277.0 630.8 L278.2 631.0 L279.5 631.1 L280.7 631.2 L281.9 631.2 L283.0 631.2 L284.1 631.0 L285.1 630.7 L286.0 630.3 L286.8 629.7 L287.6 629.0 L288.3 628.2 L288.9 627.2 L289.5 626.2 L290.0 625.2 L290.5 624.0 L290.9 622.8 L291.3 621.6 L291.7 620.3 L292.1 619.0 L292.4 617.7 L292.7 616.4 L293.1 615.1 L293.4 613.8 L293.7 612.6 L294.0 611.3 L294.2 610.1 L294.5 608.8 L294.8 607.6 L295.1 606.4 L295.3 605.2 L295.6 604.0 L295.8 602.8 L296.1 601.7 L296.3 600.5 L296.6 599.3 L296.8 598.2 L297.0 597.0 L297.3 595.9 L297.5 594.7 L297.7 593.6 L297.9 592.4 L298.1 591.3 L298.3 590.1 L298.5 589.0 L298.7 587.9 L298.9 586.7 L299.1 585.6 L299.3 584.4 L299.5 583.3 L299.7 582.1 L299.9 581.0 L300.1 579.8 L300.3 578.7 L300.5 577.5 L300.6 576.3 L300.8 575.2 L301.0 574.0 L301.2 572.8 L301.4 571.7 L301.5 570.5 L301.7 569.3 L301.9 568.1 L302.1 566.9 L302.2 565.8 L302.4 564.6 L302.6 563.4 L302.8 562.2 L302.9 561.0 L303.1 559.8 L303.3 558.6 L303.4 557.4 L303.6 556.2 L303.7 555.0 L303.9 553.8 L304.1 552.6 L304.2 551.4 L304.4 550.2 L304.5 549.0 L304.7 547.8 L304.9 546.6 L305.0 545.4 L305.2 544.2 L305.3 543.0 L305.5 541.8 L305.6 540.6 L305.8 539.3 L305.9 538.1 L306.1 536.9 L306.2 535.7 L306.4 534.5 L306.5 533.3 L306.7 532.1 L306.8 530.9 L306.9 529.7 L307.1 528.5 L307.2 527.3 L307.4 526.1 L307.5 524.9 L307.7 523.7 L307.8 522.5 L307.9 521.3 L308.1 520.1 L308.2 518.9 L308.4 517.7 L308.5 516.5 L308.6 515.4 L308.8 514.2 L308.9 513.0 L309.1 511.8 L309.2 510.6 L309.3 509.4 L309.5 508.2 L309.6 507.1 L309.8 505.9 L310.0 504.7 L310.1 503.5 L310.3 502.3 L310.4 501.2 L310.6 500.0 L310.8 498.8 L311.0 497.6 L311.2 496.5 L311.4 495.3 L311.5 494.1 L311.7 493.0 L312.0 491.8 L312.2 490.6 L312.4 489.4 L312.6 488.3 L312.9 487.1 L313.1 485.9 L313.4 484.8 L313.6 483.6 L313.9 482.4 L314.2 481.3 L314.4 480.1 L314.7 478.9 L315.0 477.8 L315.4 476.6 L315.7 475.4 L316.0 474.3 L316.4 473.1 L316.7 471.9 L317.0 470.8 L317.4 469.6 L317.7 468.5 L318.1 467.3 L318.4 466.2 L318.7 465.0 L319.1 463.9 L319.5 462.7 L320.1 461.5 L320.8 460.4 L321.6 459.5 L322.5 458.9 L323.6 458.7 L324.7 458.8 L325.8 459.2 L326.7 459.7 L327.6 460.5 L328.3 461.3 L328.9 462.3 L329.4 463.4 L329.9 464.5 L330.3 465.6 L330.7 466.8 L331.1 468.0 L331.5 469.2 L331.9 470.3 L332.3 471.5 L332.6 472.7 L333.0 473.9 L333.3 475.0 L333.6 476.2 L333.9 477.4 L334.2 478.6 L334.5 479.7 L334.8 480.9 L335.1 482.1 L335.4 483.2 L335.7 484.4 L335.9 485.6 L336.2 486.7 L336.5 487.9 L336.7 489.1 L337.0 490.2 L337.2 491.4 L337.4 492.6 L337.7 493.7 L337.9 494.9 L338.1 496.1 L338.4 497.2 L338.6 498.4 L338.8 499.6 L339.1 500.8 L339.3 501.9 L339.5 503.1 L339.7 504.3 L339.9 505.4 L340.2 506.6 L340.4 507.8 L340.6 509.0 L340.8 510.1 L341.0 511.3 L341.2 512.5 L341.4 513.7 L341.6 514.8 L341.8 516.0 L342.1 517.2 L342.3 518.4 L342.5 519.6 L342.7 520.7 L342.9 521.9 L343.1 523.1 L343.3 524.3 L343.4 525.5 L343.6 526.7 L343.8 527.8 L344.0 529.0 L344.2 530.2 L344.4 531.4 L344.6 532.6 L344.8 533.8 L345.0 534.9 L345.2 536.1 L345.3 537.3 L345.5 538.5 L345.7 539.7 L345.9 540.9 L346.1 542.1 L346.2 543.3 L346.4 544.4 L346.6 545.6 L346.8 546.8 L347.0 548.0 L347.1 549.2 L347.3 550.4 L347.5 551.6 L347.6 552.8 L347.8 554.0 L348.0 555.2 L348.1 556.4 L348.3 557.6 L348.5 558.8 L348.6 559.9 L348.8 561.1 L349.0 562.3 L349.1 563.5 L349.3 564.7 L349.5 565.9 L349.6 567.1 L349.8 568.3 L350.0 569.5 L350.1 570.7 L350.3 571.9 L350.4 573.1 L350.6 574.3 L350.8 575.5 L351.0 576.7 L351.1 577.9 L351.3 579.1 L351.5 580.3 L351.7 581.5 L351.9 582.6 L352.1 583.8 L352.3 585.0 L352.5 586.2 L352.7 587.4 L352.9 588.6 L353.1 589.7 L353.3 590.9 L353.6 592.1 L353.8 593.3 L354.1 594.4 L354.3 595.6 L354.6 596.8 L354.9 597.9 L355.2 599.1 L355.5 600.2 L355.8 601.4 L356.1 602.5 L356.4 603.7 L356.7 604.8 L357.1 605.9 L357.5 607.1 L357.8 608.2 L358.2 609.3 L358.6 610.4 L359.0 611.6 L359.5 612.7 L359.9 613.8 L360.3 614.9 L360.8 616.0 L361.3 617.1 L361.7 618.2 L362.2 619.3 L362.7 620.4 L363.2 621.4 L363.7 622.5 L364.2 623.6 L364.7 624.7 L365.2 625.8 L365.7 626.9 L366.2 628.0 L366.7 629.1 L367.2 630.2 L367.7 631.3 L368.2 632.4 L368.6 633.5 L369.1 634.6 L369.6 635.7 L370.1 636.8 L370.5 637.9 L371.0 639.0 L371.5 640.1 L371.9 641.2 L372.3 642.3 L372.7 643.5 L373.1 644.6 L373.5 645.7 L373.9 646.9 L374.3 648.0 L374.6 649.2 L375.0 650.3 L375.3 651.5 L375.6 652.7 L376.0 653.8 L376.3 655.0 L376.6 656.2 L376.9 657.3 L377.2 658.5 L377.5 659.7 L377.9 660.8 L378.2 662.0 L378.5 663.2 L378.8 664.3 L379.2 665.5 L379.5 666.6 L379.8 667.8 L380.2 668.9 L380.6 670.1 L380.9 671.2 L381.3 672.3 L381.7 673.5 L382.1 674.6 L382.5 675.7 L383.0 676.8 L383.4 677.9 L383.9 679.0 L384.4 680.1 L384.9 681.2 L385.5 682.2 L386.0 683.3 L386.6 684.3 L387.2 685.4 L387.8 686.4 L388.4 687.4 L389.1 688.4 L389.7 689.4 L390.4 690.4 L391.1 691.3 L391.8 692.3 L392.5 693.2 L393.3 694.2 L394.0 695.1 L394.8 696.0 L395.6 696.9 L396.4 697.8 L397.2 698.6 L398.1 699.5 L398.9 700.3 L399.8 701.2 L400.7 702.0 L401.6 702.8 L402.5 703.5 L403.5 704.3 L404.4 705.1 L405.4 705.8 L406.4 706.5 L407.4 707.2 L408.4 707.9 L409.4 708.5 L410.4 709.2 L411.5 709.7 L412.5 710.3 L413.6 710.8 L414.7 711.3 L415.8 711.8 L416.9 712.2 L418.0 712.6 L419.2 712.9 L420.3 713.2 L421.5 713.5 L422.7 713.6 L423.9 713.8 L425.1 713.9 L426.3 713.9 L427.5 713.8 L428.7 713.7"/>
<path class="c o" stroke-dashoffset="11.21" d="M208.8 713.8 L209.9 713.7 L211.0 713.5 L212.1 713.4 L213.3 713.2 L214.4 713.0 L215.6 712.7 L216.7 712.4 L217.9 712.1 L219.0 711.7 L220.2 711.4 L221.3 710.9 L222.5 710.5 L223.6 710.0 L224.7 709.5 L225.8 709.0 L226.9 708.4 L228.0 707.9 L229.1 707.3 L230.1 706.6 L231.2 706.0 L232.2 705.3 L233.2 704.6 L234.2 703.9 L235.2 703.1 L236.2 702.4 L237.1 701.6 L238.0 700.8 L238.9 699.9 L239.7 699.1 L240.6 698.2 L241.4 697.3 L242.1 696.4 L242.9 695.5 L243.6 694.6 L244.3 693.6 L245.0 692.6 L245.7 691.7 L246.3 690.7 L246.9 689.7 L247.5 688.6 L248.1 687.6 L248.7 686.6 L249.2 685.5 L249.7 684.5 L250.2 683.4 L250.7 682.3 L251.2 681.2 L251.7 680.1 L252.2 679.0 L252.6 677.9 L253.0 676.8 L253.5 675.7 L253.9 674.5 L254.3 673.4 L254.7 672.3 L255.0 671.1 L255.4 670.0 L255.8 668.9 L256.2 667.7 L256.5 666.6 L256.9 665.4 L257.2 664.3 L257.6 663.1 L257.9 662.0 L258.2 660.8 L258.5 659.7 L258.8 658.5 L259.1 657.4 L259.4 656.2 L259.7 655.1 L260.0 653.9 L260.3 652.7 L260.6 651.6 L260.9 650.4 L261.1 649.2 L261.4 648.1 L261.6 646.9 L261.9 645.7 L262.1 644.6 L262.4 643.4 L262.6 642.2 L262.9 641.0 L263.1 639.9 L263.3 638.7 L263.5 637.5 L263.7 636.3 L264.0 635.2 L264.2 634.0 L264.4 632.8 L264.6 631.6 L264.8 630.4 L265.0 629.2 L265.2 628.1 L265.4 626.9 L265.6 625.7 L265.7 624.5 L265.9 623.3 L266.1 622.1 L266.3 620.9 L266.5 619.8 L266.6 618.6 L266.8 617.4 L267.0 616.2 L267.2 615.0 L267.3 613.8 L267.5 612.6 L267.7 611.4 L267.8 610.2 L268.0 609.1 L268.1 607.9 L268.3 606.7 L268.5 605.5 L268.6 604.3 L268.8 603.1 L268.9 601.9 L269.1 600.7 L269.3 599.5 L269.4 598.3 L269.6 597.1 L269.7 596.0 L269.9 594.8 L270.1 593.6 L270.2 592.4 L270.4 591.2 L270.5 590.0 L270.7 588.8 L270.8 587.6 L271.0 586.4 L271.1 585.2 L271.3 584.1 L271.5 582.9 L271.6 581.7 L271.8 580.5 L271.9 579.3 L272.1 578.1 L272.2 576.9 L272.4 575.7 L272.5 574.5 L272.7 573.3 L272.8 572.2 L273.0 571.0 L273.1 569.8 L273.3 568.6 L273.4 567.4 L273.6 566.2 L273.8 565.0 L273.9 563.8 L274.1 562.7 L274.2 561.5 L274.4 560.3 L274.5 559.1 L274.7 557.9 L274.8 556.7 L275.0 555.5 L275.1 554.3 L275.3 553.2 L275.4 552.0 L275.6 550.8 L275.7 549.6 L275.9 548.4 L276.0 547.2 L276.2 546.0 L276.3 544.9 L276.5 543.7 L276.6 542.5 L276.8 541.3 L276.9 540.1 L277.1 538.9 L277.2 537.7 L277.4 536.6 L277.6 535.4 L277.7 534.2 L277.9 533.0 L278.0 531.8 L278.2 530.6 L278.3 529.5 L278.5 528.3 L278.6 527.1 L278.8 525.9 L278.9 524.7 L279.1 523.6 L279.3 522.4 L279.4 521.2 L279.6 520.0 L279.8 518.8 L279.9 517.6 L280.1 516.5 L280.3 515.3 L280.4 514.1 L280.6 512.9 L280.8 511.7 L281.0 510.5 L281.2 509.3 L281.4 508.2 L281.5 507.0 L281.7 505.8 L281.9 504.6 L282.2 503.4 L282.4 502.2 L282.6 501.0 L282.8 499.8 L283.0 498.6 L283.3 497.4 L283.5 496.2 L283.7 495.0 L284.0 493.8 L284.2 492.6 L284.5 491.4 L284.7 490.2 L285.0 489.0 L285.3 487.8 L285.6 486.6 L285.9 485.4 L286.3 484.3 L286.7 483.1 L287.1 482.0 L287.7 481.0 L288.3 480.0 L289.0 479.0 L289.8 478.2 L290.7 477.6 L291.6 477.3 L292.5 477.2 L293.4 477.5 L294.2 478.0 L295.1 478.7 L295.8 479.5 L296.5 480.5 L297.1 481.6 L297.7 482.7 L298.2 484.0 L298.7 485.2 L299.2 486.5 L299.6 487.7 L300.1 488.9 L300.5 490.1 L301.0 491.3 L301.4 492.5 L301.9 493.6 L302.3 494.7 L302.8 495.8 L303.3 496.9 L303.8 497.9 L304.3 498.9 L304.9 500.0 L305.4 501.0 L306.0 501.9 L306.7 502.9 L307.3 503.9 L308.0 504.8 L308.7 505.8 L309.4 506.7 L310.2 507.7 L310.9 508.6 L311.7 509.5 L312.4 510.4 L313.2 511.4 L314.0 512.3 L314.8 513.2 L315.6 514.1 L316.3 515.0 L317.1 516.0 L317.9 516.9 L318.7 517.8 L319.4 518.8 L320.2 519.7 L320.9 520.7 L321.6 521.7 L322.3 522.6 L323.0 523.6 L323.7 524.6 L324.3 525.6 L324.9 526.7 L325.5 527.7 L326.1 528.7 L326.7 529.8 L327.3 530.8 L327.8 531.9 L328.3 533.0 L328.9 534.0 L329.4 535.1 L329.9 536.2 L330.4 537.3 L330.8 538.4 L331.3 539.5 L331.8 540.6 L332.2 541.7 L332.6 542.8 L333.1 543.9 L333.5 545.0 L333.9 546.2 L334.3 547.3 L334.7 548.4 L335.1 549.5 L335.5 550.7 L335.8 551.8 L336.2 553.0 L336.5 554.1 L336.9 555.2 L337.2 556.4 L337.6 557.5 L337.9 558.7 L338.2 559.8 L338.5 561.0 L338.8 562.2 L339.1 563.3 L339.4 564.5 L339.7 565.7 L340.0 566.8 L340.3 568.0 L340.5 569.2 L340.8 570.3 L341.1 571.5 L341.3 572.7 L341.6 573.9 L341.8 575.0 L342.1 576.2 L342.3 577.4 L342.6 578.6 L342.8 579.8 L343.1 581.0 L343.3 582.1 L343.5 583.3 L343.7 584.5 L344.0 585.7 L344.2 586.9 L344.4 588.1 L344.6 589.2 L344.9 590.4 L345.1 591.6 L345.3 592.8 L345.5 594.0 L345.7 595.1 L345.9 596.3 L346.1 597.5 L346.4 598.7 L346.6 599.9 L346.8 601.0 L347.0 602.2 L347.2 603.4 L347.4 604.6 L347.6 605.7 L347.9 606.9 L348.1 608.1 L348.3 609.3 L348.5 610.4 L348.7 611.6 L349.0 612.8 L349.2 613.9 L349.4 615.1 L349.6 616.3 L349.9 617.4 L350.1 618.6 L350.3 619.7 L350.5 620.9 L350.8 622.1 L351.0 623.2 L351.2 624.4 L351.4 625.6 L351.7 626.7 L351.9 627.9 L352.1 629.1 L352.3 630.3 L352.5 631.4 L352.8 632.6 L353.0 633.8 L353.2 635.0 L353.4 636.1 L353.6 637.3 L353.9 638.5 L354.1 639.7 L354.3 640.9 L354.5 642.1 L354.7 643.2 L354.9 644.4 L355.1 645.6 L355.3 646.8 L355.5 648.0 L355.7 649.2 L355.9 650.5 L356.1 651.7 L356.3 652.9 L356.6 654.1 L356.8 655.3 L357.0 656.5 L357.2 657.7 L357.4 658.9 L357.7 660.1 L357.9 661.3 L358.2 662.5 L358.5 663.7 L358.8 664.9 L359.1 666.0 L359.4 667.2 L359.7 668.3 L360.1 669.5 L360.5 670.6 L360.9 671.7 L361.3 672.8 L361.7 673.9 L362.2 675.0 L362.7 676.0 L363.2 677.1 L363.8 678.1 L364.4 679.1 L365.0 680.1 L365.6 681.1 L366.3 682.0 L367.0 683.0 L367.7 683.9 L368.4 684.8 L369.1 685.7 L369.9 686.6 L370.7 687.5 L371.5 688.4 L372.3 689.2 L373.2 690.0 L374.1 690.8 L374.9 691.6 L375.8 692.4 L376.7 693.2 L377.7 693.9 L378.6 694.7 L379.6 695.4 L380.5 696.1 L381.5 696.8 L382.5 697.5 L383.5 698.2 L384.5 698.9 L385.5 699.5 L386.5 700.2 L387.5 700.9 L388.5 701.6 L389.5 702.2 L390.5 702.9 L391.5 703.6 L392.5 704.3 L393.4 705.1 L394.4 705.8 L395.4 706.6 L396.3 707.3 L397.3 708.0 L398.2 708.7 L399.2 709.4 L400.2 710.1 L401.2 710.8 L402.2 711.4 L403.2 711.9 L404.2 712.5 L405.3 712.9 L406.3 713.3 L407.5 713.7 L408.6 714.0 L409.8 714.2 L411.0 714.3 L412.2 714.4 L413.5 714.4 L414.9 714.2 L416.3 714.0"/>
<line class="zl" x1="124.0" y1="714.2" x2="524.6" y2="714.2"/>
<rect class="fr" x="124.0" y="417.1" width="400.6" height="308.5"/>
<path class="tk" d="M164.4 725.6v14.8M228.4 725.6v14.8M292.3 725.6v14.8M356.3 725.6v14.8M420.2 725.6v14.8M484.2 725.6v14.8M124.0 714.2h-14.8M124.0 642.8h-14.8M124.0 571.4h-14.8M124.0 499.9h-14.8M124.0 428.5h-14.8"/>
<text class="ax" x="164.4" y="779.5" text-anchor="middle">5</text>
<text class="ax" x="228.4" y="779.5" text-anchor="middle">10</text>
<text class="ax" x="292.3" y="779.5" text-anchor="middle">15</text>
<text class="ax" x="356.3" y="779.5" text-anchor="middle">20</text>
<text class="ax" x="420.2" y="779.5" text-anchor="middle">25</text>
<text class="ax" x="484.2" y="779.5" text-anchor="middle">30</text>
<text class="ax" transform="translate(88.7 714.2) rotate(-90)" text-anchor="middle">0.00</text>
<text class="ax" transform="translate(88.7 642.8) rotate(-90)" text-anchor="middle">0.05</text>
<text class="ax" transform="translate(88.7 571.4) rotate(-90)" text-anchor="middle">0.10</text>
<text class="ax" transform="translate(88.7 499.9) rotate(-90)" text-anchor="middle">0.15</text>
<text class="ax" transform="translate(88.7 428.5) rotate(-90)" text-anchor="middle">0.20</text>
<text class="yr" x="442.7" y="464.8">2013</text>
<text class="lab" transform="translate(35.4 571.4) rotate(-90)" text-anchor="middle">Density</text>
<text class="lab" x="324.5" y="817.6" text-anchor="middle">T<tspan font-size="24.5" dy="6.6">c</tspan><tspan dy="-6.6"> [°C]</tspan></text>
</g>
<g id="panel4">
<path class="c" d="M651.2 713.5 L652.6 713.4 L653.8 713.3 L655.1 713.1 L656.3 712.9 L657.5 712.6 L658.6 712.2 L659.8 711.9 L660.9 711.4 L661.9 710.9 L663.0 710.4 L664.0 709.8 L665.0 709.2 L665.9 708.6 L666.9 707.9 L667.8 707.2 L668.7 706.4 L669.5 705.6 L670.4 704.8 L671.2 703.9 L672.0 703.0 L672.7 702.1 L673.5 701.2 L674.2 700.3 L674.9 699.3 L675.6 698.3 L676.3 697.3 L677.0 696.2 L677.6 695.2 L678.2 694.1 L678.8 693.1 L679.4 692.0 L680.0 690.9 L680.6 689.8 L681.1 688.7 L681.7 687.6 L682.2 686.5 L682.7 685.4 L683.2 684.3 L683.7 683.2 L684.2 682.1 L684.7 681.0 L685.2 679.9 L685.6 678.8 L686.1 677.7 L686.5 676.6 L687.0 675.5 L687.4 674.4 L687.8 673.3 L688.3 672.2 L688.7 671.1 L689.1 670.0 L689.5 668.9 L689.9 667.8 L690.4 666.7 L690.8 665.6 L691.2 664.5 L691.6 663.4 L692.0 662.3 L692.4 661.2 L692.8 660.1 L693.2 659.0 L693.6 657.9 L694.1 656.8 L694.5 655.7 L694.9 654.6 L695.3 653.5 L695.8 652.3 L696.2 651.2 L696.7 650.1 L697.1 649.0 L697.6 647.9 L698.0 646.7 L698.5 645.6 L699.0 644.5 L699.5 643.3 L700.0 642.2 L700.5 641.1 L701.0 639.9 L701.6 638.8 L702.1 637.6 L702.7 636.5 L703.3 635.3 L703.9 634.2 L704.5 633.1 L705.2 632.1 L705.9 631.1 L706.6 630.2 L707.4 629.5 L708.3 628.8 L709.2 628.3 L710.2 628.0 L711.2 627.8 L712.3 627.9 L713.3 628.1 L714.2 628.5 L715.1 629.0 L716.0 629.8 L716.7 630.6 L717.4 631.6 L718.1 632.7 L718.8 633.8 L719.4 635.0 L720.0 636.2 L720.6 637.4 L721.2 638.5 L721.7 639.7 L722.3 640.8 L722.8 641.9 L723.4 643.0 L723.9 644.1 L724.5 645.2 L725.0 646.2 L725.5 647.3 L726.0 648.4 L726.5 649.4 L726.9 650.5 L727.4 651.6 L727.9 652.7 L728.3 653.7 L728.8 654.8 L729.2 655.9 L729.7 657.0 L730.1 658.1 L730.5 659.2 L730.9 660.3 L731.4 661.4 L731.8 662.5 L732.2 663.6 L732.6 664.7 L733.0 665.8 L733.4 666.9 L733.8 668.0 L734.3 669.1 L734.7 670.2 L735.1 671.3 L735.5 672.5 L736.0 673.6 L736.4 674.7 L736.8 675.8 L737.3 676.9 L737.7 678.0 L738.2 679.1 L738.7 680.2 L739.2 681.3 L739.6 682.4 L740.1 683.5 L740.7 684.6 L741.2 685.7 L741.7 686.8 L742.3 687.9 L742.8 689.0 L743.4 690.1 L744.0 691.2 L744.6 692.3 L745.3 693.4 L745.9 694.4 L746.6 695.5 L747.3 696.6 L748.0 697.6 L748.7 698.7 L749.5 699.7 L750.2 700.6 L751.1 701.5 L751.9 702.3 L752.8 703.0 L753.7 703.7 L754.6 704.2 L755.6 704.6 L756.6 704.9 L757.7 705.1 L758.8 705.1 L759.9 704.9 L761.1 704.6 L762.3 704.2 L763.4 703.7 L764.5 703.1 L765.5 702.5 L766.5 701.7 L767.4 701.0 L768.2 700.1 L769.0 699.3 L769.8 698.3 L770.4 697.4 L771.1 696.4 L771.7 695.3 L772.2 694.3 L772.8 693.2 L773.3 692.0 L773.7 690.9 L774.2 689.7 L774.6 688.6 L775.0 687.4 L775.4 686.2 L775.8 685.0 L776.1 683.8 L776.5 682.7 L776.9 681.5 L777.2 680.3 L777.6 679.2 L778.0 678.0 L778.3 676.8 L778.7 675.7 L779.0 674.5 L779.4 673.4 L779.7 672.2 L780.0 671.1 L780.4 670.0 L780.7 668.8 L781.1 667.7 L781.4 666.6 L781.7 665.4 L782.0 664.3 L782.4 663.2 L782.7 662.0 L783.0 660.9 L783.3 659.7 L783.6 658.6 L783.9 657.5 L784.2 656.3 L784.5 655.2 L784.8 654.0 L785.1 652.9 L785.4 651.7 L785.6 650.6 L785.9 649.4 L786.2 648.3 L786.5 647.1 L786.7 645.9 L787.0 644.8 L787.3 643.6 L787.5 642.4 L787.8 641.2 L788.0 640.1 L788.3 638.9 L788.5 637.7 L788.8 636.5 L789.0 635.3 L789.3 634.2 L789.5 633.0 L789.8 631.8 L790.0 630.6 L790.2 629.4 L790.5 628.2 L790.7 627.0 L790.9 625.9 L791.2 624.7 L791.4 623.5 L791.6 622.3 L791.9 621.1 L792.1 619.9 L792.3 618.7 L792.6 617.5 L792.8 616.3 L793.0 615.1 L793.2 614.0 L793.5 612.8 L793.7 611.6 L793.9 610.4 L794.1 609.2 L794.4 608.0 L794.6 606.9 L794.8 605.7 L795.1 604.5 L795.3 603.3 L795.5 602.1 L795.7 601.0 L796.0 599.8 L796.2 598.6 L796.4 597.4 L796.7 596.3 L796.9 595.1 L797.1 593.9 L797.4 592.8 L797.6 591.6 L797.9 590.5 L798.1 589.3 L798.3 588.1 L798.6 587.0 L798.8 585.8 L799.1 584.7 L799.3 583.5 L799.6 582.4 L799.8 581.2 L800.1 580.1 L800.3 578.9 L800.6 577.7 L800.8 576.6 L801.1 575.4 L801.3 574.3 L801.6 573.1 L801.8 572.0 L802.1 570.8 L802.4 569.7 L802.6 568.5 L802.9 567.4 L803.2 566.2 L803.4 565.0 L803.7 563.9 L804.0 562.7 L804.2 561.5 L804.5 560.4 L804.8 559.2 L805.1 558.0 L805.3 556.9 L805.6 555.7 L805.9 554.5 L806.2 553.3 L806.5 552.2 L806.7 551.0 L807.0 549.8 L807.3 548.6 L807.6 547.4 L807.9 546.2 L808.2 545.0 L808.5 543.8 L808.8 542.6 L809.1 541.4 L809.4 540.2 L809.7 539.0 L810.0 537.8 L810.3 536.6 L810.7 535.4 L811.0 534.2 L811.4 533.0 L811.8 531.8 L812.2 530.7 L812.6 529.5 L813.1 528.4 L813.5 527.3 L814.1 526.2 L814.6 525.2 L815.2 524.2 L815.8 523.2 L816.4 522.2 L817.1 521.3 L817.8 520.4 L818.6 519.5 L819.4 518.7 L820.2 518.1 L821.1 517.7 L822.0 517.6 L822.9 517.8 L823.8 518.2 L824.7 518.9 L825.6 519.6 L826.5 520.4 L827.4 521.3 L828.2 522.2 L829.0 523.1 L829.8 524.0 L830.5 524.9 L831.2 525.9 L831.9 526.9 L832.6 527.9 L833.2 528.9 L833.9 529.9 L834.5 531.0 L835.1 532.0 L835.7 533.1 L836.2 534.2 L836.8 535.3 L837.3 536.4 L837.9 537.5 L838.4 538.6 L838.9 539.7 L839.4 540.8 L839.9 541.9 L840.4 543.1 L840.8 544.2 L841.3 545.3 L841.8 546.4 L842.3 547.5 L842.7 548.7 L843.2 549.8 L843.6 550.9 L844.1 552.0 L844.5 553.2 L844.9 554.3 L845.4 555.4 L845.8 556.6 L846.2 557.7 L846.6 558.8 L847.0 559.9 L847.4 561.1 L847.9 562.2 L848.2 563.3 L848.6 564.5 L849.0 565.6 L849.4 566.7 L849.8 567.9 L850.2 569.0 L850.6 570.1 L850.9 571.3 L851.3 572.4 L851.7 573.5 L852.0 574.7 L852.4 575.8 L852.7 577.0 L853.1 578.1 L853.4 579.2 L853.8 580.4 L854.1 581.5 L854.5 582.7 L854.8 583.8 L855.1 584.9 L855.5 586.1 L855.8 587.2 L856.1 588.4 L856.4 589.5 L856.8 590.7 L857.1 591.8 L857.4 593.0 L857.7 594.1 L858.0 595.3 L858.4 596.4 L858.7 597.6 L859.0 598.7 L859.3 599.9 L859.6 601.0 L859.9 602.2 L860.2 603.3 L860.5 604.5 L860.8 605.6 L861.1 606.8 L861.4 607.9 L861.7 609.1 L862.0 610.2 L862.3 611.4 L862.6 612.5 L862.9 613.7 L863.2 614.9 L863.5 616.0 L863.8 617.2 L864.1 618.3 L864.4 619.5 L864.7 620.6 L865.0 621.8 L865.2 623.0 L865.5 624.1 L865.8 625.3 L866.1 626.5 L866.4 627.6 L866.7 628.8 L867.0 630.0 L867.3 631.1 L867.5 632.3 L867.8 633.4 L868.1 634.6 L868.4 635.8 L868.7 637.0 L869.0 638.1 L869.3 639.3 L869.6 640.5 L869.8 641.6 L870.1 642.8 L870.4 644.0 L870.7 645.1 L871.0 646.3 L871.3 647.5 L871.6 648.7 L871.9 649.8 L872.1 651.0 L872.4 652.2 L872.7 653.4 L873.0 654.5 L873.3 655.7 L873.6 656.9 L873.9 658.1 L874.2 659.3 L874.5 660.4 L874.8 661.6 L875.1 662.8 L875.4 663.9 L875.8 665.1 L876.1 666.3 L876.4 667.4 L876.8 668.6 L877.1 669.8 L877.5 670.9 L877.8 672.1 L878.2 673.2 L878.6 674.4 L878.9 675.5 L879.3 676.6 L879.7 677.8 L880.1 678.9 L880.6 680.0 L881.0 681.1 L881.4 682.2 L881.9 683.3 L882.4 684.4 L882.8 685.5 L883.3 686.6 L883.9 687.6 L884.4 688.7 L884.9 689.7 L885.5 690.8 L886.0 691.8 L886.6 692.9 L887.2 693.9 L887.8 694.9 L888.5 695.9 L889.1 696.9 L889.8 697.9 L890.5 698.8 L891.2 699.8 L891.9 700.7 L892.6 701.7 L893.4 702.6 L894.2 703.5 L895.0 704.4 L895.8 705.3 L896.6 706.1 L897.5 707.0 L898.4 707.8 L899.3 708.6 L900.3 709.3 L901.2 710.0 L902.2 710.6 L903.2 711.2 L904.3 711.8 L905.3 712.3 L906.4 712.7 L907.6 713.1 L908.7 713.4 L909.9 713.6 L911.1 713.8 L912.3 713.8 L913.6 713.8 L914.9 713.7 L916.3 713.5"/>
<path class="c o" stroke-dashoffset="12.91" d="M671.9 713.3 L673.2 713.1 L674.5 712.9 L675.8 712.7 L677.0 712.4 L678.2 712.0 L679.4 711.7 L680.5 711.3 L681.7 710.8 L682.7 710.4 L683.8 709.9 L684.9 709.3 L685.9 708.8 L686.9 708.2 L687.8 707.6 L688.8 706.9 L689.7 706.2 L690.6 705.5 L691.5 704.8 L692.4 704.1 L693.2 703.3 L694.0 702.5 L694.8 701.7 L695.6 700.8 L696.4 700.0 L697.2 699.1 L697.9 698.2 L698.7 697.3 L699.4 696.4 L700.1 695.4 L700.8 694.5 L701.5 693.5 L702.2 692.5 L702.8 691.5 L703.5 690.5 L704.2 689.5 L704.8 688.5 L705.5 687.4 L706.1 686.4 L706.7 685.3 L707.4 684.3 L708.0 683.2 L708.6 682.2 L709.2 681.1 L709.9 680.1 L710.5 679.0 L711.1 677.9 L711.7 676.9 L712.3 675.8 L713.0 674.8 L713.6 673.7 L714.2 672.6 L714.9 671.6 L715.5 670.6 L716.2 669.5 L716.8 668.5 L717.5 667.5 L718.1 666.5 L718.8 665.4 L719.5 664.4 L720.1 663.4 L720.8 662.4 L721.5 661.4 L722.2 660.4 L722.8 659.4 L723.5 658.4 L724.2 657.4 L724.9 656.4 L725.6 655.4 L726.2 654.4 L726.9 653.5 L727.6 652.5 L728.3 651.5 L729.0 650.5 L729.6 649.5 L730.3 648.5 L731.0 647.5 L731.6 646.6 L732.3 645.6 L733.0 644.6 L733.6 643.6 L734.3 642.6 L734.9 641.6 L735.6 640.6 L736.2 639.6 L736.9 638.6 L737.5 637.6 L738.2 636.6 L738.8 635.6 L739.4 634.6 L740.0 633.6 L740.6 632.6 L741.2 631.6 L741.8 630.5 L742.4 629.5 L743.0 628.5 L743.5 627.4 L744.1 626.4 L744.7 625.3 L745.2 624.3 L745.8 623.2 L746.3 622.2 L746.8 621.1 L747.3 620.0 L747.8 618.9 L748.3 617.8 L748.8 616.8 L749.3 615.7 L749.8 614.6 L750.3 613.5 L750.8 612.4 L751.3 611.3 L751.7 610.2 L752.2 609.1 L752.7 607.9 L753.2 606.8 L753.7 605.7 L754.1 604.6 L754.6 603.5 L755.1 602.4 L755.6 601.3 L756.1 600.2 L756.6 599.1 L757.1 598.0 L757.6 596.9 L758.1 595.8 L758.6 594.7 L759.1 593.6 L759.7 592.5 L760.2 591.5 L760.8 590.4 L761.3 589.3 L761.9 588.2 L762.5 587.2 L763.1 586.1 L763.7 585.1 L764.3 584.0 L764.9 583.0 L765.5 582.0 L766.2 580.9 L766.9 579.9 L767.6 578.9 L768.3 577.9 L769.0 576.9 L769.7 576.0 L770.5 575.0 L771.3 574.0 L772.0 573.1 L772.9 572.1 L773.7 571.2 L774.5 570.3 L775.4 569.4 L776.3 568.6 L777.2 567.7 L778.1 566.9 L779.1 566.2 L780.0 565.5 L781.0 564.9 L782.0 564.3 L783.0 563.7 L784.0 563.3 L785.0 562.9 L786.1 562.5 L787.1 562.3 L788.2 562.2 L789.3 562.1 L790.3 562.1 L791.4 562.2 L792.5 562.4 L793.6 562.7 L794.7 563.1 L795.8 563.5 L796.9 564.0 L798.0 564.5 L799.1 565.1 L800.1 565.8 L801.1 566.5 L802.1 567.2 L803.1 568.0 L804.1 568.9 L805.0 569.8 L805.9 570.7 L806.8 571.6 L807.6 572.6 L808.4 573.6 L809.1 574.6 L809.8 575.6 L810.5 576.6 L811.1 577.6 L811.7 578.7 L812.3 579.8 L812.9 580.9 L813.4 581.9 L813.9 583.0 L814.4 584.1 L815.0 585.2 L815.4 586.3 L815.9 587.5 L816.4 588.6 L816.9 589.7 L817.4 590.8 L817.9 591.9 L818.4 593.0 L818.9 594.1 L819.4 595.1 L820.0 596.2 L820.5 597.3 L821.1 598.3 L821.7 599.3 L822.3 600.4 L822.9 601.4 L823.6 602.3 L824.3 603.3 L825.0 604.2 L825.8 605.2 L826.5 606.1 L827.3 606.9 L828.2 607.8 L829.0 608.6 L829.9 609.4 L830.8 610.1 L831.8 610.9 L832.7 611.6 L833.7 612.2 L834.7 612.9 L835.8 613.6 L836.8 614.2 L837.8 614.9 L838.8 615.5 L839.9 616.2 L840.8 616.9 L841.8 617.6 L842.8 618.3 L843.7 619.0 L844.6 619.8 L845.5 620.6 L846.4 621.4 L847.2 622.2 L848.0 623.1 L848.8 624.0 L849.6 624.8 L850.4 625.7 L851.1 626.7 L851.8 627.6 L852.6 628.6 L853.2 629.5 L853.9 630.5 L854.6 631.5 L855.2 632.5 L855.9 633.5 L856.5 634.5 L857.1 635.6 L857.7 636.6 L858.3 637.6 L858.9 638.7 L859.4 639.7 L860.0 640.8 L860.5 641.9 L861.1 642.9 L861.6 644.0 L862.2 645.1 L862.7 646.2 L863.2 647.2 L863.7 648.3 L864.2 649.4 L864.7 650.5 L865.2 651.6 L865.7 652.7 L866.2 653.8 L866.7 654.8 L867.2 655.9 L867.7 657.0 L868.2 658.1 L868.7 659.2 L869.2 660.3 L869.7 661.4 L870.2 662.5 L870.7 663.6 L871.2 664.7 L871.8 665.8 L872.3 666.8 L872.8 667.9 L873.3 669.0 L873.9 670.1 L874.4 671.2 L875.0 672.2 L875.6 673.3 L876.1 674.4 L876.7 675.4 L877.3 676.5 L877.9 677.5 L878.5 678.6 L879.1 679.6 L879.8 680.7 L880.4 681.7 L881.0 682.7 L881.7 683.7 L882.4 684.7 L883.0 685.7 L883.7 686.7 L884.4 687.7 L885.1 688.7 L885.8 689.6 L886.6 690.6 L887.3 691.5 L888.1 692.5 L888.8 693.4 L889.6 694.3 L890.4 695.2 L891.2 696.0 L892.1 696.9 L892.9 697.7 L893.8 698.5 L894.7 699.3 L895.6 700.0 L896.6 700.7 L897.6 701.3 L898.6 701.9 L899.6 702.5 L900.7 703.1 L901.7 703.6 L902.8 704.1 L903.9 704.5 L905.0 705.0 L906.2 705.4 L907.3 705.8 L908.4 706.1 L909.6 706.5 L910.8 706.8 L911.9 707.2 L913.1 707.5 L914.2 707.8 L915.4 708.1 L916.6 708.4 L917.8 708.7 L918.9 709.0 L920.1 709.3 L921.3 709.5 L922.5 709.8 L923.6 710.0 L924.8 710.2 L926.0 710.5 L927.2 710.7 L928.4 710.9 L929.6 711.1 L930.8 711.3 L932.0 711.4 L933.2 711.6 L934.3 711.8 L935.5 711.9 L936.7 712.1 L937.9 712.2 L939.1 712.4 L940.3 712.5 L941.5 712.7 L942.7 712.8 L943.9 712.9 L945.1 713.0 L946.3 713.1 L947.5 713.2 L948.7 713.4 L949.9 713.5 L951.1 713.5 L952.2 713.6 L953.4 713.7 L954.6 713.8 L955.8 713.9"/>
<line class="zl" x1="615.2" y1="714.2" x2="1015.9" y2="714.2"/>
<rect class="fr" x="615.2" y="417.1" width="400.7" height="308.5"/>
<path class="tk" d="M655.6 725.6v14.8M719.6 725.6v14.8M783.6 725.6v14.8M847.5 725.6v14.8M911.5 725.6v14.8M975.5 725.6v14.8M615.2 714.2h-14.8M615.2 642.8h-14.8M615.2 571.4h-14.8M615.2 499.9h-14.8M615.2 428.5h-14.8"/>
<text class="ax" x="655.6" y="779.5" text-anchor="middle">5</text>
<text class="ax" x="719.6" y="779.5" text-anchor="middle">10</text>
<text class="ax" x="783.6" y="779.5" text-anchor="middle">15</text>
<text class="ax" x="847.5" y="779.5" text-anchor="middle">20</text>
<text class="ax" x="911.5" y="779.5" text-anchor="middle">25</text>
<text class="ax" x="975.5" y="779.5" text-anchor="middle">30</text>
<text class="ax" transform="translate(579.9 714.2) rotate(-90)" text-anchor="middle">0.00</text>
<text class="ax" transform="translate(579.9 642.8) rotate(-90)" text-anchor="middle">0.05</text>
<text class="ax" transform="translate(579.9 571.4) rotate(-90)" text-anchor="middle">0.10</text>
<text class="ax" transform="translate(579.9 499.9) rotate(-90)" text-anchor="middle">0.15</text>
<text class="ax" transform="translate(579.9 428.5) rotate(-90)" text-anchor="middle">0.20</text>
<text class="yr" x="934.0" y="464.8">2014</text>
<text class="lab" x="815.8" y="817.6" text-anchor="middle">T<tspan font-size="24.5" dy="6.6">c</tspan><tspan dy="-6.6"> [°C]</tspan></text>
</g>
</svg></body></html>
